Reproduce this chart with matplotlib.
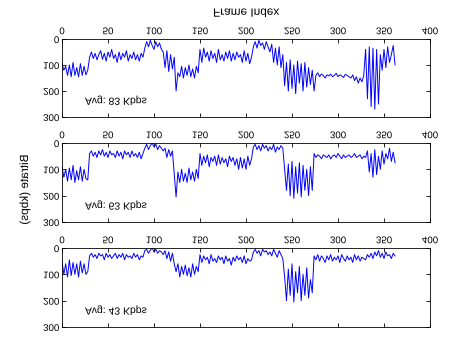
import numpy as np
import matplotlib
matplotlib.use("Agg")
import matplotlib.pyplot as plt
from matplotlib.patheffects import AbstractPathEffect
from matplotlib.transforms import Affine2D

# ---------------- data (values read every 2 frames) ----------------
frame_step = 2
bitrate_a = [95, 120, 105, 140, 100, 145, 90, 140, 110, 145, 95, 140, 105, 138, 120,
             70, 50, 75, 55, 80, 60, 45, 78, 55, 85, 50, 70, 40, 75, 60, 90, 50, 80, 55, 70,
             45, 85, 60, 75, 50, 80, 60, 85, 55, 70,
             35, 10, 30, 5, 25, 40, 10, 30, 15, 40,
             50, 110, 45, 125, 60, 115, 70,
             200, 130, 145, 105, 150, 110, 140, 100, 145, 115, 150, 105, 130,
             40, 90, 35, 70, 50, 85, 45, 75, 55, 90, 40, 80, 60, 85, 50, 75, 45, 85, 55, 80, 50, 70,
             60, 90, 45, 85, 55, 95, 70,
             30, 10, 35, 5, 25, 15, 40, 10, 30, 50,
             20, 90, 35, 100, 30, 110, 60,
             180, 90, 200, 80, 190, 100, 210, 85, 170, 95, 200, 90, 185, 110, 175, 120, 200,
             140, 130, 145, 135, 140, 150, 138, 142, 135, 145, 140, 132, 145, 138, 142, 148, 136,
             140, 145, 150, 138, 160, 145, 170, 150, 165, 140,
             40, 230, 30, 260, 35, 270, 40, 250, 60,
             120, 40, 110, 30, 90, 60, 25, 100]
bitrate_b = [90, 130, 100, 145, 95, 140, 85, 150, 105, 140, 90, 145, 100, 135, 140,
             40, 30, 50, 35, 55, 30, 45, 25, 50, 35, 55, 30, 45, 40, 55, 30, 50, 35, 60, 30,
             45, 35, 55, 30, 50, 40, 55, 35, 60, 40,
             20, 5, 25, 10, 0, 15, 5, 25, 10, 20, 30,
             20, 55, 25, 50, 30,
             120, 205, 110, 150, 100, 145, 115, 150, 95, 140, 110, 145, 100, 135,
             40, 85, 50, 75, 45, 90, 55, 70, 50, 85, 45, 80, 55, 75, 60, 90, 50, 70, 55, 85, 60, 100,
             55, 95, 60, 100, 50, 85, 60,
             15, 5, 25, 10, 30, 5, 20, 10, 30, 15, 25, 5, 35, 15, 25, 10, 20,
             100, 180, 80, 200, 70, 210, 90, 190, 75, 205, 85, 180, 100, 200, 90, 180,
             40, 55, 45, 50, 60, 45, 50, 55, 45, 60, 50, 45, 55, 40, 50, 60, 45, 55, 50, 45,
             55, 50, 40, 55, 50, 45, 60, 50, 55,
             30, 110, 40, 130, 25, 120, 50, 100, 30, 80, 40, 60, 20, 70, 35, 75]
bitrate_c = [50, 100, 60, 110, 45, 105, 55, 100, 60, 110, 50, 95, 60, 100, 90,
             30, 20, 35, 25, 40, 20, 30, 25, 45, 20, 35, 25, 40, 30, 20, 40, 25, 35, 20, 45,
             25, 35, 30, 40, 20, 35, 25, 45, 30, 35,
             10, 5, 20, 8, 0, 15, 5, 20, 10, 15, 25,
             10, 40, 15, 50, 20, 60,
             90, 60, 110, 70, 100, 65, 105, 75, 110, 60, 100, 70, 90,
             25, 55, 30, 45, 35, 60, 25, 50, 40, 55, 30, 45, 35, 60, 30, 50, 40, 65, 35, 50,
             30, 45, 35, 55, 30, 60, 40, 50, 45,
             15, 5, 20, 10, 30, 5, 15, 10, 25, 15, 30, 5, 20, 35, 10, 25, 40,
             110, 200, 80, 180, 60, 205, 90, 170, 70, 200, 100, 180, 75, 190, 120, 170,
             30, 45, 25, 50, 30, 40, 55, 30, 45, 25, 50, 35, 45, 30, 55, 25, 40, 50, 30, 45,
             35, 55, 25, 45, 30, 50, 35, 40, 45, 25, 35, 20, 40, 15, 30, 10, 35, 20, 40, 15,
             30, 25, 40, 20, 30]
series = [bitrate_a, bitrate_b, bitrate_c]
avg_labels = ["Avg: 83 Kbps", "Avg: 63 Kbps", "Avg: 43 Kbps"]
x_ticks = [0, 50, 100, 150, 200, 250, 300, 350, 400]
y_ticks = [0, 100, 200, 300]
x_label = "Frame Index"
y_label = "Bitrate (kbps)"


class VFlip(AbstractPathEffect):
    """Mirror the glyphs vertically about their own centre."""
    def draw_path(self, renderer, gc, tpath, affine, rgbFace=None):
        ext = tpath.get_extents(affine)
        cy = 0.5 * (ext.y0 + ext.y1)
        flip = Affine2D().translate(0, -cy).scale(1, -1).translate(0, cy)
        renderer.draw_path(gc, tpath, affine + flip, rgbFace)


plt.rcParams['font.family'] = ['Liberation Sans', 'DejaVu Sans']

fig = plt.figure(figsize=(4.74, 3.55), dpi=100)
W, H = 474.0, 355.0
panels_px = [(39, 117), (143, 222), (248, 327)]
left_px, right_px = 62, 430

for vals, lab, (top, bot) in zip(series, avg_labels, panels_px):
    ax = fig.add_axes([left_px / W, 1 - bot / H, (right_px - left_px) / W, (bot - top) / H])
    frames = np.arange(len(vals)) * frame_step
    ax.plot(frames, vals, color=(0, 0, 1), lw=0.7)
    ax.set_xlim(0, 400)
    ax.set_ylim(300, 0)
    ax.set_xticks(x_ticks)
    ax.set_yticks(y_ticks)
    ax.tick_params(direction='in', length=3, width=0.6, top=True, right=True,
                   labeltop=True, labelbottom=False, labelsize=7, pad=2)
    for s in ax.spines.values():
        s.set_linewidth(0.6)
    for t in ax.xaxis.get_major_ticks() + ax.yaxis.get_major_ticks():
        t.label1.set_path_effects([VFlip()])
        t.label2.set_path_effects([VFlip()])
    ax.text(25, 235, lab, fontsize=7.5, ha='left', va='center',
            path_effects=[VFlip()])

fig.text(246 / W, 1 - 14 / H, x_label, fontsize=8.5, ha='center', va='center',
         path_effects=[VFlip()])
fig.text(25 / W, 1 - 190 / H, y_label, fontsize=8.5, ha='center', va='center',
         rotation=90, path_effects=[VFlip()])

fig.savefig("out.png", dpi=100)
